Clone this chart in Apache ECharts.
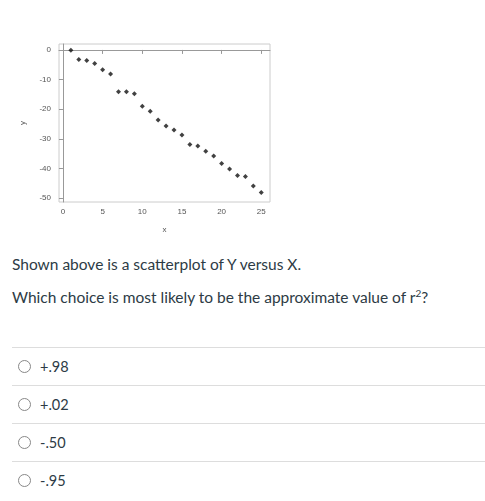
<!DOCTYPE html>
<html>
<head>
<meta charset="utf-8">
<script src="https://cdn.jsdelivr.net/npm/echarts@6/dist/echarts.min.js"></script>
<style>
  body { margin: 0; background: #fff; font-family: Lato, 'Open Sans', sans-serif; color: #2d3b45; }
  #chart { position: absolute; left: 0; top: 0; width: 485px; height: 240px; }
  .q { position: absolute; left: 12px; font-size: 15.5px; }
  .opt { position: absolute; left: 12px; right: 0; height: 38px; border-top: 1px solid #ddd; font-size: 14.5px; }
  .opt span.r { position: absolute; left: 6px; top: 12px; width: 11px; height: 11px; border: 1px solid #888; border-radius: 50%; }
  .opt span.t { position: absolute; left: 28px; top: 10px; }
</style>
</head>
<body>
<div id="chart"></div>
<div class="q" style="top:255px">Shown above is a scatterplot of Y versus X.</div>
<div class="q" style="top:287px">Which choice is most likely to be the approximate value of r<sup style="font-size:10px">2</sup>?</div>
<div id="opts"></div>
<script>
const xs = [1,2,3,4,5,6,7,8,9,10,11,12,13,14,15,16,17,18,19,20,21,22,23,24,25]
const ys = [-0.1,-3.2,-3.6,-4.6,-6.7,-8.1,-14.1,-14.1,-14.8,-19.0,-20.7,-23.6,-25.7,-27.0,-28.7,-31.9,-32.4,-34.2,-35.8,-38.3,-40.2,-42.4,-42.7,-45.9,-48.1]
const xTicks = [0,5,10,15,20,25]
const yTicks = [0,-10,-20,-30,-40,-50]
const choices = ['+.98', '+.02', '-.50', '-.95']

const opts = document.getElementById('opts')
choices.forEach((c, i) => {
  const d = document.createElement('div')
  d.className = 'opt'
  d.style.top = (347 + i * 38) + 'px'
  d.innerHTML = '<span class="r"></span><span class="t">' + c + '</span>'
  opts.appendChild(d)
})

const chart = echarts.init(document.getElementById('chart'))
const lab = { color: '#555', fontSize: 8 }
chart.setOption({
  animation: false,
  grid: { left: 59, top: 44, width: 211, height: 158, show: true, borderColor: '#ccc', borderWidth: 1 },
  xAxis: {
    type: 'value', min: -0.5, max: 26.1,
    name: 'x', nameLocation: 'middle', nameGap: 24, nameTextStyle: lab,
    axisLine: { lineStyle: { color: '#999' } },
    axisTick: { show: true, length: 4, customValues: xTicks, lineStyle: { color: '#999' } },
    axisLabel: { ...lab, customValues: xTicks, margin: 6 },
    splitLine: { show: false }
  },
  yAxis: {
    type: 'value', min: -51.3, max: 2,
    name: 'y', nameLocation: 'middle', nameGap: 32, nameTextStyle: lab,
    axisLine: { show: true, lineStyle: { color: '#999' } },
    axisTick: { show: true, length: 4, customValues: yTicks, lineStyle: { color: '#999' } },
    axisLabel: { ...lab, customValues: yTicks, margin: 8 },
    splitLine: { show: false }
  },
  series: [{
    type: 'scatter',
    data: xs.map((x, i) => [x, ys[i]]),
    symbol: 'diamond',
    symbolSize: 5,
    itemStyle: { color: '#111' }
  }]
})
</script>
</body>
</html>
